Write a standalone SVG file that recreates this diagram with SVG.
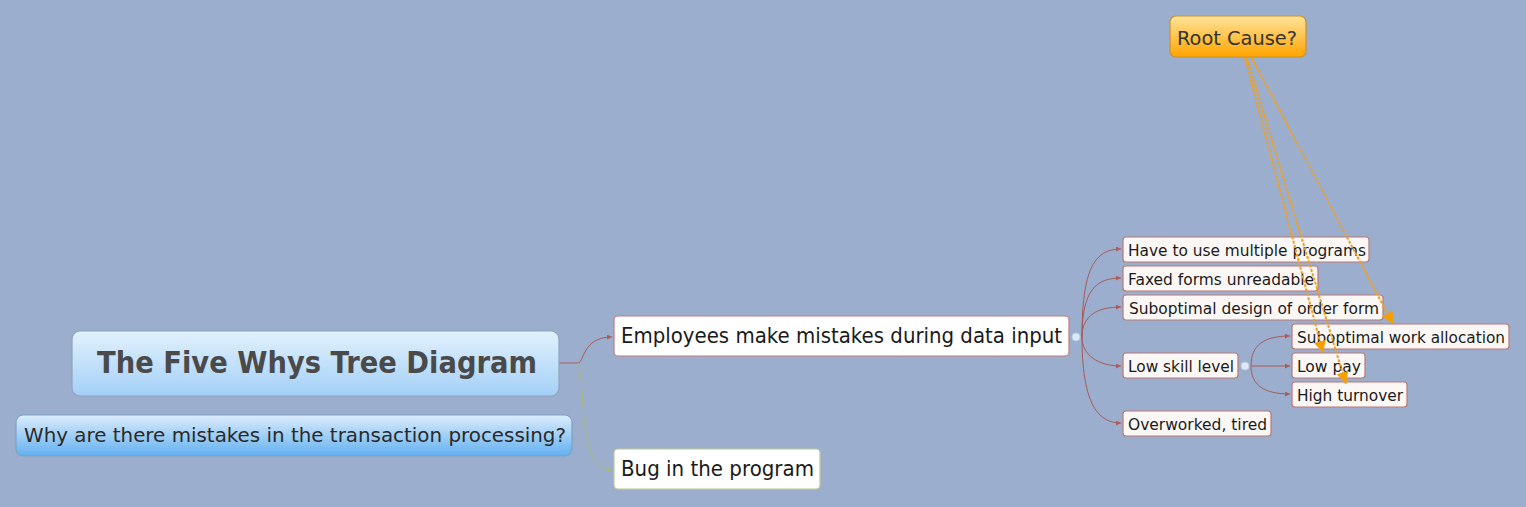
<svg xmlns="http://www.w3.org/2000/svg" width="1526" height="507" viewBox="0 0 1526 507">
<defs>
<linearGradient id="gTitle" x1="0" y1="0" x2="0" y2="1"><stop offset="0" stop-color="#e2f1fd"/><stop offset="1" stop-color="#a3d0f7"/></linearGradient>
<linearGradient id="gSub" x1="0" y1="0" x2="0" y2="1"><stop offset="0" stop-color="#dcedfc"/><stop offset="1" stop-color="#63b0f0"/></linearGradient>
<linearGradient id="gRoot" x1="0" y1="0" x2="0" y2="1"><stop offset="0" stop-color="#ffe39a"/><stop offset="1" stop-color="#ffa500"/></linearGradient>
<marker id="aRed" viewBox="0 0 10 10" refX="10" refY="5" markerWidth="5" markerHeight="5" orient="auto" markerUnits="userSpaceOnUse"><path d="M0,0 L10,5 L0,10 z" fill="#b05a5a"/></marker>
<marker id="aGreen" viewBox="0 0 10 10" refX="10" refY="5" markerWidth="5" markerHeight="5" orient="auto" markerUnits="userSpaceOnUse"><path d="M0,0 L10,5 L0,10 z" fill="#a8bc70"/></marker>
<marker id="aOr" viewBox="0 0 10 10" refX="10" refY="5" markerWidth="12" markerHeight="12" orient="auto" markerUnits="userSpaceOnUse"><path d="M0,0 L10,5 L0,10 z" fill="#f5a000"/></marker>
</defs>
<style>
text{font-family:"DejaVu Sans","Liberation Sans",sans-serif;fill:#1a1a1a}
.n{fill:#fbf7f5;stroke:#b97878;stroke-width:1.2}
.n2{fill:#ffffff;stroke:#c47a7a;stroke-width:1.2}
.c{fill:none;stroke:#a85a5a;stroke-width:1}
.s{font-size:16px}
.o{fill:none;stroke:#f0a020;stroke-width:2;stroke-dasharray:3 1.5}
.dot{fill:#dde9f7;stroke:#b8cce4;stroke-width:1}
</style>
<rect width="1526" height="507" fill="#9caecd"/>
<g id="connectors">
<path class="c" d="M559,363 H578 C584,363 582,337 612,337" marker-end="url(#aRed)"/>
<path d="M578,363 C586,380 576,470 612,470" fill="none" stroke="#a8bc70" stroke-width="1" marker-end="url(#aGreen)"/>
<path class="c" d="M1082,337 C1082,270 1094,249 1121,249" marker-end="url(#aRed)"/>
<path class="c" d="M1082,337 C1082,290 1096,278 1121,278" marker-end="url(#aRed)"/>
<path class="c" d="M1082,337 C1082,315 1098,307 1121,307" marker-end="url(#aRed)"/>
<path class="c" d="M1082,337 C1082,355 1098,366 1121,366" marker-end="url(#aRed)"/>
<path class="c" d="M1082,337 C1082,400 1096,423 1121,423" marker-end="url(#aRed)"/>
<path class="c" d="M1251,366 C1251,345 1264,336 1290,336" marker-end="url(#aRed)"/>
<path class="c" d="M1251,366 H1290" marker-end="url(#aRed)"/>
<path class="c" d="M1251,366 C1251,385 1264,394 1290,394" marker-end="url(#aRed)"/>
</g>
<g id="title">
<rect x="72" y="331" width="487" height="65" rx="8" fill="url(#gTitle)" stroke="#8ea3bb" stroke-width="1.2"/>
<text x="97" y="373" font-size="30" font-weight="bold" style="fill:#4a4a4a" textLength="440" lengthAdjust="spacingAndGlyphs">The Five Whys Tree Diagram</text>
</g>
<g id="question">
<rect x="16" y="415" width="556" height="41" rx="7" fill="url(#gSub)" stroke="#7fa0c4" stroke-width="1.2"/>
<text x="24" y="442" font-size="20" style="fill:#2a2a2a" textLength="542" lengthAdjust="spacingAndGlyphs">Why are there mistakes in the transaction processing?</text>
</g>
<g id="employees">
<rect class="n2" x="614" y="316" width="455" height="40" rx="4"/>
<text x="621" y="343" font-size="22" textLength="441" lengthAdjust="spacingAndGlyphs">Employees make mistakes during data input</text>
<circle class="dot" cx="1076" cy="337" r="4"/>
</g>
<g id="bug">
<rect x="614" y="449" width="206" height="40" rx="4" fill="#ffffff" stroke="#bccb8e" stroke-width="1.2"/>
<text x="621" y="476" font-size="22" textLength="193" lengthAdjust="spacingAndGlyphs">Bug in the program</text>
</g>
<g id="multiple">
<rect class="n" x="1123" y="237" width="246" height="25" rx="3"/>
<text class="s" x="1128" y="256" textLength="238" lengthAdjust="spacingAndGlyphs">Have to use multiple programs</text>
</g>
<g id="faxed">
<rect class="n" x="1123" y="266" width="195" height="25" rx="3"/>
<text class="s" x="1128" y="285" textLength="186" lengthAdjust="spacingAndGlyphs">Faxed forms unreadable</text>
</g>
<g id="design">
<rect class="n" x="1123" y="295" width="260" height="25" rx="3"/>
<text class="s" x="1129" y="314" textLength="250" lengthAdjust="spacingAndGlyphs">Suboptimal design of order form</text>
</g>
<g id="skill">
<rect class="n" x="1123" y="353" width="115" height="25" rx="3"/>
<text class="s" x="1128" y="372" textLength="106" lengthAdjust="spacingAndGlyphs">Low skill level</text>
<circle class="dot" cx="1245" cy="366" r="4"/>
</g>
<g id="overworked">
<rect class="n" x="1123" y="411" width="148" height="25" rx="3"/>
<text class="s" x="1128" y="430" textLength="139" lengthAdjust="spacingAndGlyphs">Overworked, tired</text>
</g>
<g id="allocation">
<rect class="n" x="1292" y="324" width="217" height="25" rx="3"/>
<text class="s" x="1297" y="343" textLength="208" lengthAdjust="spacingAndGlyphs">Suboptimal work allocation</text>
</g>
<g id="lowpay">
<rect class="n" x="1292" y="353" width="73" height="25" rx="3"/>
<text class="s" x="1297" y="372" textLength="64" lengthAdjust="spacingAndGlyphs">Low pay</text>
</g>
<g id="turnover">
<rect class="n" x="1292" y="382" width="115" height="25" rx="3"/>
<text class="s" x="1297" y="401" textLength="106" lengthAdjust="spacingAndGlyphs">High turnover</text>
</g>
<g id="rootcause">
<rect x="1170" y="16" width="136" height="41" rx="6" fill="url(#gRoot)" stroke="#c8922e" stroke-width="1.2"/>
<text x="1177" y="45" font-size="20" style="fill:#333" textLength="120" lengthAdjust="spacingAndGlyphs">Root Cause?</text>
</g>
<g id="relationships">
<path class="o" d="M1252,58 L1393,324" marker-end="url(#aOr)"/>
<path class="o" d="M1245,58 L1323,353" marker-end="url(#aOr)"/>
<path class="o" d="M1247,58 L1346,384" marker-end="url(#aOr)"/>
</g>
</svg>
